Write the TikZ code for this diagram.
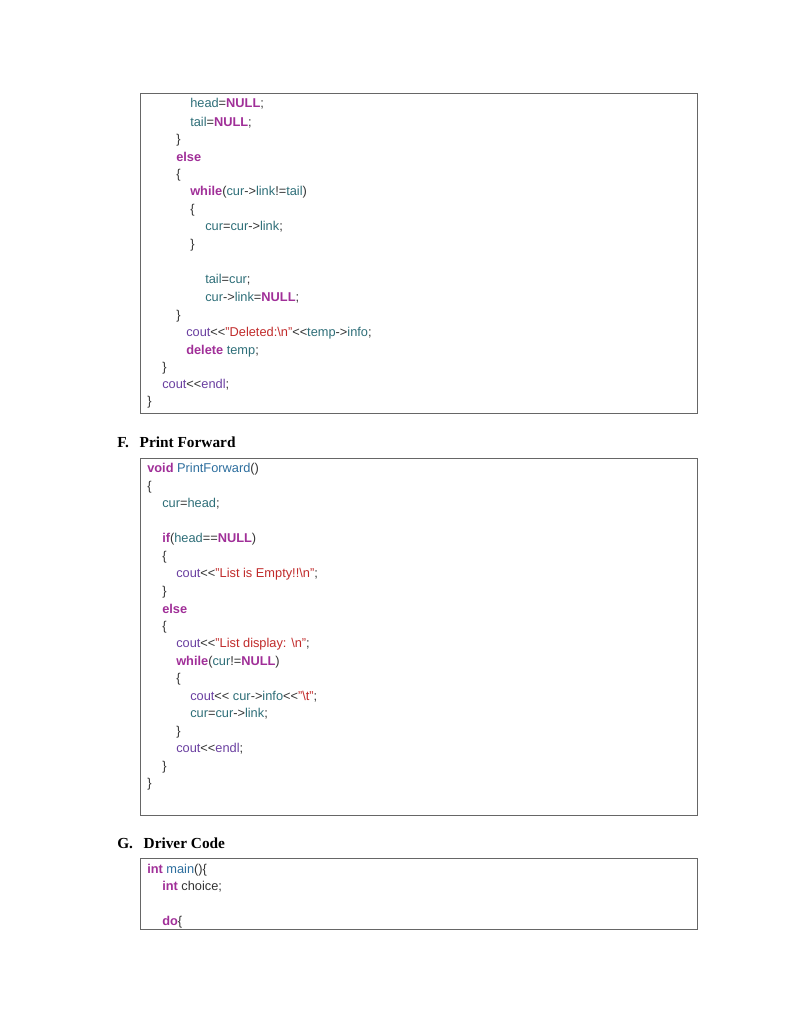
\documentclass[tikz,border=0pt]{standalone}
\usepackage{fontspec}
\setmainfont{Liberation Sans}
\newfontfamily\hfont{Liberation Serif}
\definecolor{cv}{HTML}{2E6E78}
\definecolor{ck}{HTML}{A02F98}
\definecolor{cc}{HTML}{6A3FA0}
\definecolor{cs}{HTML}{C02A2A}
\definecolor{cf}{HTML}{2D6E9E}
\definecolor{co}{HTML}{333333}
\newcommand{\V}[1]{\textcolor{cv}{#1}}
\newcommand{\K}[1]{\textcolor{ck}{\bfseries #1}}
\newcommand{\C}[1]{\textcolor{cc}{#1}}
\newcommand{\St}[1]{\textcolor{cs}{#1}}
\newcommand{\F}[1]{\textcolor{cf}{#1}}
\newcommand{\LL}{{<}{<}}
\begin{document}
\begin{tikzpicture}[x=0.75pt,y=-0.75pt,
  code/.style={anchor=west,inner sep=0pt,font=\fontsize{9.6}{11}\selectfont,text=co,yshift=-1.5pt},
  box/.style={draw=black!60,line width=0.6pt},
  head/.style={anchor=west,inner sep=0pt,font=\hfont\bfseries\fontsize{11.5}{13}\selectfont}]
\useasboundingbox (0,0) rectangle (791,1024);
\draw[box] (140,93) rectangle (697,413);
\node[code] (a1) at (190,102) {\V{head}=\K{NULL};};
\node[code] (a2) at (190,121) {\V{tail}=\K{NULL};};
\node[code] (a3) at (176,138) {\}};
\node[code] (a4) at (176,155) {\K{else}};
\node[code] (a5) at (176,173) {\{};
\node[code] (a6) at (190,190) {\K{while}(\V{cur}->\V{link}!=\V{tail})};
\node[code] (a7) at (190,208) {\{};
\node[code] (a8) at (205,225) {\V{cur}=\V{cur}->\V{link};};
\node[code] (a9) at (190,243) {\}};
\node[code] (a10) at (205,278) {\V{tail}=\V{cur};};
\node[code] (a11) at (205,296) {\V{cur}->\V{link}=\K{NULL};};
\node[code] (a12) at (176,314) {\}};
\node[code] (a13) at (186,331) {\C{cout}\LL\St{"Deleted:\textbackslash n"}\LL\V{temp}->\V{info};};
\node[code] (a14) at (186,349) {\K{delete} \V{temp};};
\node[code] (a15) at (162,366) {\}};
\node[code] (a16) at (162,383) {\C{cout}\LL\C{endl};};
\node[code] (a17) at (147,400) {\}};

\node[head] (hf) at (117,442) {F.\hspace{8pt}Print Forward};
\draw[box] (140,458) rectangle (697,815);
\node[code] (b1) at (147,467) {\K{void} \F{PrintForward}()};
\node[code] (b2) at (147,485) {\{};
\node[code] (b3) at (162,502) {\V{cur}=\V{head};};
\node[code] (b4) at (162,537) {\K{if}(\V{head}==\K{NULL})};
\node[code] (b5) at (162,555) {\{};
\node[code] (b6) at (176,572) {\C{cout}\LL\St{"List is Empty!!\textbackslash n"};};
\node[code] (b7) at (162,590) {\}};
\node[code] (b8) at (162,607) {\K{else}};
\node[code] (b9) at (162,625) {\{};
\node[code] (b10) at (176,642) {\C{cout}\LL\St{"List display: \textbackslash n"};};
\node[code] (b11) at (176,660) {\K{while}(\V{cur}!=\K{NULL})};
\node[code] (b12) at (176,677) {\{};
\node[code] (b13) at (190,695) {\C{cout}\LL{} \V{cur}->\V{info}\LL\St{"\textbackslash t"};};
\node[code] (b14) at (190,712) {\V{cur}=\V{cur}->\V{link};};
\node[code] (b15) at (176,730) {\}};
\node[code] (b16) at (176,747) {\C{cout}\LL\C{endl};};
\node[code] (b17) at (162,765) {\}};
\node[code] (b18) at (147,782) {\}};

\node[head] (hg) at (117,843) {G.\hspace{8pt}Driver Code};
\draw[box] (140,858) rectangle (697,929);
\node[code] (c1) at (147,868) {\K{int} \F{main}()\{};
\node[code] (c2) at (162,885) {\K{int} choice;};
\node[code] (c3) at (162,920) {\K{do}\{};
\end{tikzpicture}
\end{document}
